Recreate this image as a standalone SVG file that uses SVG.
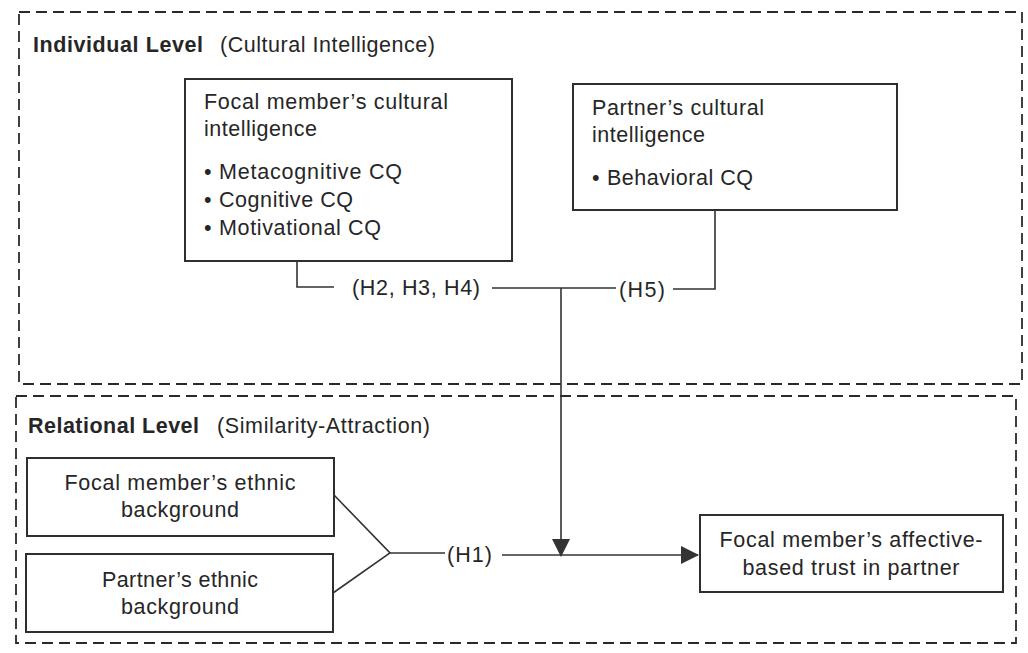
<svg xmlns="http://www.w3.org/2000/svg" width="1028" height="653" viewBox="0 0 1028 653">
<defs>
<style>
text{font-family:"Liberation Sans",Arial,sans-serif;font-size:21.5px;fill:#262626}
.b{font-weight:bold}
.lvl{fill:none;stroke:#2a2a2a;stroke-width:1.8;stroke-dasharray:11 6}
.box{fill:none;stroke:#2e2e2e;stroke-width:2}
.ln{fill:none;stroke:#333;stroke-width:1.6}
.c{text-anchor:middle}
</style>
<marker id="ah" viewBox="0 0 18 18" refX="17" refY="9" markerWidth="18" markerHeight="18" markerUnits="userSpaceOnUse" orient="auto">
<path d="M0,0 L18,9 L0,18 Z" fill="#333"/>
</marker>
</defs>
<rect width="1028" height="653" fill="#fff"/>
<g id="individual-level">
<rect class="lvl" x="19" y="12" width="1003" height="372"/>
<text class="b" x="33" y="52" textLength="170" lengthAdjust="spacing">Individual Level</text>
<text x="220" y="52" textLength="215" lengthAdjust="spacing">(Cultural Intelligence)</text>
</g>
<g id="relational-level">
<rect class="lvl" x="16" y="396" width="1000" height="247"/>
<text class="b" x="28" y="433" textLength="171" lengthAdjust="spacing">Relational Level</text>
<text x="217" y="433" textLength="213" lengthAdjust="spacing">(Similarity-Attraction)</text>
</g>
<g id="focal-cq">
<rect class="box" x="185" y="79" width="327" height="182"/>
<text x="204" y="109" textLength="244" lengthAdjust="spacing">Focal member’s cultural</text>
<text x="204" y="136" textLength="113" lengthAdjust="spacing">intelligence</text>
<text x="204" y="179">•</text><text x="219" y="179" textLength="183" lengthAdjust="spacing">Metacognitive CQ</text>
<text x="204" y="207">•</text><text x="219" y="207" textLength="134" lengthAdjust="spacing">Cognitive CQ</text>
<text x="204" y="235">•</text><text x="219" y="235" textLength="162" lengthAdjust="spacing">Motivational CQ</text>
</g>
<g id="partner-cq">
<rect class="box" x="573" y="84" width="324" height="126"/>
<text x="592" y="115" textLength="172" lengthAdjust="spacing">Partner’s cultural</text>
<text x="592" y="142" textLength="113" lengthAdjust="spacing">intelligence</text>
<text x="592" y="185">•</text><text x="607" y="185" textLength="146" lengthAdjust="spacing">Behavioral CQ</text>
</g>
<g id="focal-ethnic">
<rect class="box" x="27" y="458" width="307" height="78"/>
<text class="c" x="180" y="490" textLength="231" lengthAdjust="spacing">Focal member’s ethnic</text>
<text class="c" x="180" y="517" textLength="118" lengthAdjust="spacing">background</text>
</g>
<g id="partner-ethnic">
<rect class="box" x="26" y="554" width="307" height="78"/>
<text class="c" x="180" y="587" textLength="156" lengthAdjust="spacing">Partner’s ethnic</text>
<text class="c" x="180" y="614" textLength="118" lengthAdjust="spacing">background</text>
</g>
<g id="trust">
<rect class="box" x="700" y="515" width="303" height="77"/>
<text class="c" x="851" y="547" textLength="263" lengthAdjust="spacing">Focal member’s affective-</text>
<text class="c" x="851" y="575" textLength="217" lengthAdjust="spacing">based trust in partner</text>
</g>
<g id="connectors">
<path class="ln" d="M297,261 V287 H334"/>
<path class="ln" d="M492,288 H616"/>
<path class="ln" d="M673,289 H715 V210"/>
<path class="ln" d="M561,288 V556" marker-end="url(#ah)"/>
<path class="ln" d="M334,495 L390,553 L333,593"/>
<path class="ln" d="M390,553 H445"/>
<path class="ln" d="M502,555 H698" marker-end="url(#ah)"/>
<text x="352" y="295" textLength="128" lengthAdjust="spacing">(H2, H3, H4)</text>
<text x="619" y="297" textLength="46" lengthAdjust="spacing">(H5)</text>
<text x="447" y="562" textLength="45" lengthAdjust="spacing">(H1)</text>
</g>
</svg>
